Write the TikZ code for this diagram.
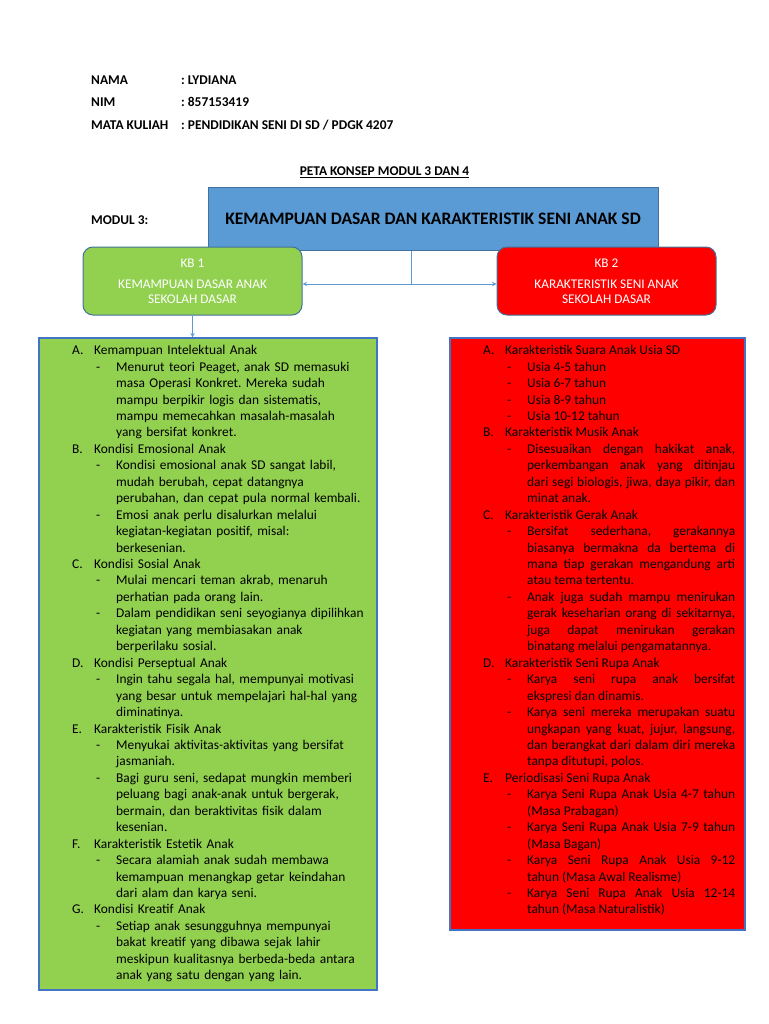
\documentclass[tikz,border=0pt]{standalone}
\usepackage{fontspec}
\setmainfont{Carlito}
\frenchspacing
\definecolor{birubox}{HTML}{5B9BD5}
\definecolor{birugaris}{HTML}{41719C}
\definecolor{birutepi}{HTML}{4472C4}
\definecolor{hijau}{HTML}{92D050}
\definecolor{merah}{HTML}{FF0000}
\newcommand{\judul}[2]{\par\noindent\makebox[22pt][l]{#1}#2\par}
\newcommand{\butir}[1]{\par\noindent\hangindent=44pt\hangafter=1\hspace*{24pt}\makebox[20pt][l]{-}#1\par}
\begin{document}
\begin{tikzpicture}[x=1pt,y=-1pt,>=stealth,
  head/.style={anchor=base west,inner sep=0pt,font=\fontsize{13.4}{15}\selectfont\bfseries},
  kbbox/.style={draw=birugaris,line width=1pt,rounded corners=10pt,minimum width=219pt,minimum height=68pt,align=center,text=white,font=\fontsize{13.3}{15}\selectfont},
  isibox/.style={draw=birutepi,line width=1.2pt},
  isitext/.style={anchor=north west,inner sep=0pt,font=\fontsize{13.4}{16.45}\selectfont}]
  \useasboundingbox (0,0) rectangle (768,1024);
  % identitas
  \node[head] (nama) at (91,84.5) {NAMA};
  \node[head] (namaisi) at (181,84.5) {: LYDIANA};
  \node[head] (nim) at (91,106.5) {NIM};
  \node[head] (nimisi) at (181,106.5) {: 857153419};
  \node[head] (mk) at (91,129.5) {MATA KULIAH};
  \node[head] (mkisi) at (181,129.5) {: PENDIDIKAN SENI DI SD / PDGK 4207};
  \node[head,anchor=base] (peta) at (384.5,175.5) {\underline{PETA KONSEP MODUL 3 DAN 4}};
  \node[head] (modul) at (91,224.5) {MODUL 3:};
  % kotak utama
  \node[draw=birugaris,fill=birubox,line width=1pt,minimum width=450pt,minimum height=62pt,font=\fontsize{17.5}{20}\selectfont\bfseries] (utama) at (433,219) {KEMAMPUAN DASAR DAN KARAKTERISTIK SENI ANAK SD};
  \node[kbbox,fill=hijau] (kb1) at (192.5,281) {KB 1\\[6pt]KEMAMPUAN DASAR ANAK\\SEKOLAH DASAR};
  \node[kbbox,fill=merah] (kb2) at (606.5,281) {KB 2\\[6pt]KARAKTERISTIK SENI ANAK\\SEKOLAH DASAR};
  \node[isibox,fill=hijau,minimum width=338pt,minimum height=652pt] (kiri) at (208,664) {};
  \node[isibox,fill=merah,minimum width=295pt,minimum height=592pt] (kanan) at (597.5,634) {};
  % panah
  \coordinate (cabang) at (411,284);
  \draw[birubox,line width=1pt] (utama.south -| cabang) -- (cabang);
  \draw[birubox,line width=1pt,->] (cabang) -- (cabang -| kb1.east);
  \draw[birubox,line width=1pt,->] (cabang) -- (cabang -| kb2.west);
  \draw[birubox,line width=1pt,->] (kb1.south) -- (kb1.south |- kiri.north);
  % isi KB 1
  \node[isitext,text width=300pt,align=left] (isikiri) at (72,338) {%
    \judul{A.}{Kemampuan Intelektual Anak}
    \butir{Menurut teori Peaget, anak SD memasuki\newline masa Operasi Konkret. Mereka sudah\newline mampu berpikir logis dan sistematis,\newline mampu memecahkan masalah-masalah\newline yang bersifat konkret.}
    \judul{B.}{Kondisi Emosional Anak}
    \butir{Kondisi emosional anak SD sangat labil,\newline mudah berubah, cepat datangnya\newline perubahan, dan cepat pula normal kembali.}
    \butir{Emosi anak perlu disalurkan melalui\newline kegiatan-kegiatan positif, misal:\newline berkesenian.}
    \judul{C.}{Kondisi Sosial Anak}
    \butir{Mulai mencari teman akrab, menaruh\newline perhatian pada orang lain.}
    \butir{Dalam pendidikan seni seyogianya dipilihkan\newline kegiatan yang membiasakan anak\newline berperilaku sosial.}
    \judul{D.}{Kondisi Perseptual Anak}
    \butir{Ingin tahu segala hal, mempunyai motivasi\newline yang besar untuk mempelajari hal-hal yang\newline diminatinya.}
    \judul{E.}{Karakteristik Fisik Anak}
    \butir{Menyukai aktivitas-aktivitas yang bersifat\newline jasmaniah.}
    \butir{Bagi guru seni, sedapat mungkin memberi\newline peluang bagi anak-anak untuk bergerak,\newline bermain, dan beraktivitas fisik dalam\newline kesenian.}
    \judul{F.}{Karakteristik Estetik Anak}
    \butir{Secara alamiah anak sudah membawa\newline kemampuan menangkap getar keindahan\newline dari alam dan karya seni.}
    \judul{G.}{Kondisi Kreatif Anak}
    \butir{Setiap anak sesungguhnya mempunyai\newline bakat kreatif yang dibawa sejak lahir\newline meskipun kualitasnya berbeda-beda antara\newline anak yang satu dengan yang lain.}};
  % isi KB 2
  \node[isitext,text width=252pt,align=justify] (isikanan) at (483,338) {%
    \judul{A.}{Karakteristik Suara Anak Usia SD}
    \butir{Usia 4-5 tahun}
    \butir{Usia 6-7 tahun}
    \butir{Usia 8-9 tahun}
    \butir{Usia 10-12 tahun}
    \judul{B.}{Karakteristik Musik Anak}
    \butir{Disesuaikan dengan hakikat anak,\linebreak perkembangan anak yang ditinjau\linebreak dari segi biologis, jiwa, daya pikir, dan\linebreak minat anak.}
    \judul{C.}{Karakteristik Gerak Anak}
    \butir{Bersifat sederhana, gerakannya\linebreak biasanya bermakna da bertema di\linebreak mana tiap gerakan mengandung arti\linebreak atau tema tertentu.}
    \butir{Anak juga sudah mampu menirukan\linebreak gerak keseharian orang di sekitarnya,\linebreak juga dapat menirukan gerakan\linebreak binatang melalui pengamatannya.}
    \judul{D.}{Karakteristik Seni Rupa Anak}
    \butir{Karya seni rupa anak bersifat\linebreak ekspresi dan dinamis.}
    \butir{Karya seni mereka merupakan suatu\linebreak ungkapan yang kuat, jujur, langsung,\linebreak dan berangkat dari dalam diri mereka\linebreak tanpa ditutupi, polos.}
    \judul{E.}{Periodisasi Seni Rupa Anak}
    \butir{Karya Seni Rupa Anak Usia 4-7 tahun\linebreak (Masa Prabagan)}
    \butir{Karya Seni Rupa Anak Usia 7-9 tahun\linebreak (Masa Bagan)}
    \butir{Karya Seni Rupa Anak Usia 9-12\linebreak tahun (Masa Awal Realisme)}
    \butir{Karya Seni Rupa Anak Usia 12-14\linebreak tahun (Masa Naturalistik)}};
\end{tikzpicture}
\end{document}
